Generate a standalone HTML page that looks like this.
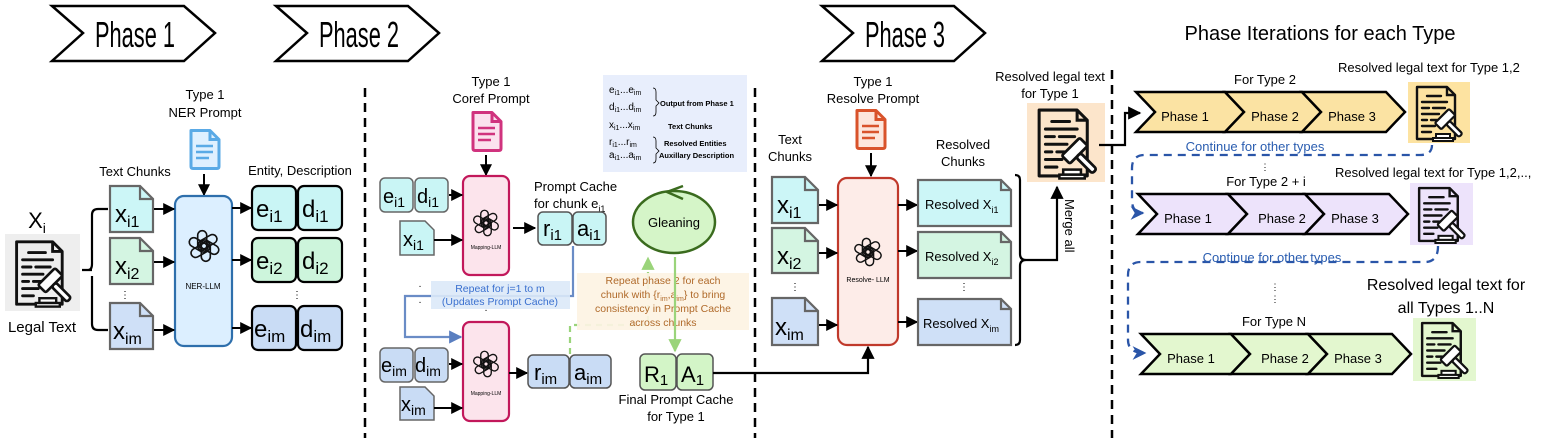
<!DOCTYPE html>
<html><head><meta charset="utf-8"><style>
html,body{margin:0;padding:0;background:#fff;}
svg{display:block;font-family:"Liberation Sans",Arial,sans-serif;}
</style></head><body>
<svg width="1557" height="440" viewBox="0 0 1557 440" xmlns="http://www.w3.org/2000/svg">
<defs>
<marker id="ah" viewBox="0 0 10 10" refX="9" refY="5" markerWidth="6" markerHeight="6" orient="auto"><path d="M0,0 L10,5 L0,10 z" fill="#000"/></marker>
<marker id="ahb" viewBox="0 0 10 10" refX="9" refY="5" markerWidth="6" markerHeight="6" orient="auto"><path d="M0,0 L10,5 L0,10 z" fill="#5a7fc0"/></marker>
<marker id="ahd" viewBox="0 0 10 10" refX="9" refY="5" markerWidth="6" markerHeight="6" orient="auto"><path d="M0,0 L10,5 L0,10 L3,5 z" fill="#2a55a8"/></marker>
<marker id="ahg" viewBox="0 0 10 10" refX="9" refY="5" markerWidth="6" markerHeight="6" orient="auto"><path d="M0,0 L10,5 L0,10 z" fill="#9ad47a"/></marker>
<symbol id="legal" viewBox="0 0 60 60">
<path d="M8,4 H38 L46,12 V56 H8 Z" fill="none" stroke="#111" stroke-width="2.4" stroke-linejoin="round"/>
<path d="M38,4 V12 H46" fill="none" stroke="#111" stroke-width="2.4"/>
<g stroke="#111" stroke-width="2.4" stroke-linecap="round">
<line x1="18" y1="13" x2="32" y2="13"/><line x1="13" y1="19" x2="38" y2="19"/>
<line x1="13" y1="25" x2="20" y2="25"/><line x1="24" y1="25" x2="36" y2="25"/>
<line x1="13" y1="31" x2="30" y2="31"/><line x1="13" y1="37" x2="18" y2="37"/><line x1="22" y1="37" x2="28" y2="37"/>
<line x1="13" y1="43" x2="26" y2="43"/><line x1="13" y1="49" x2="22" y2="49"/>
</g>
<g transform="rotate(-45 40 40)" fill="#fff" stroke="#111" stroke-width="2.2">
<rect x="30" y="30" width="20" height="9" rx="1.5"/><rect x="37" y="39" width="5" height="18" rx="2"/>
</g>
<rect x="27" y="51" width="14" height="4" fill="#fff" stroke="#111" stroke-width="2"/>
<rect x="24" y="55" width="20" height="3" fill="#fff" stroke="#111" stroke-width="2"/>
</symbol>
<symbol id="oai" viewBox="0 0 40 40">
<g fill="none" stroke="#111" stroke-width="1.8">
<rect x="13" y="3" width="10" height="22" rx="5" transform="rotate(0 20 20)"/>
<rect x="13" y="3" width="10" height="22" rx="5" transform="rotate(60 20 20)"/>
<rect x="13" y="3" width="10" height="22" rx="5" transform="rotate(120 20 20)"/>
<rect x="13" y="3" width="10" height="22" rx="5" transform="rotate(180 20 20)"/>
<rect x="13" y="3" width="10" height="22" rx="5" transform="rotate(240 20 20)"/>
<rect x="13" y="3" width="10" height="22" rx="5" transform="rotate(300 20 20)"/>
</g>
</symbol>
<symbol id="pdoc" viewBox="0 0 34 44">
<path d="M3,3 H22 L31,12 V39 Q31,41 29,41 H5 Q3,41 3,39 Z" stroke-width="3" stroke-linejoin="round"/>
<path d="M22,3 V12 H31" fill="none" stroke-width="3"/>
</symbol>
</defs>

<!-- Top banners -->
<g fill="#fff" stroke="#000" stroke-width="2.5">
<polygon points="52,6 184,6 215,33 184,61 52,61 83,33"/>
<polygon points="276,6 408,6 439,33 408,61 276,61 307,33"/>
<polygon points="822,6 954,6 985,33 954,61 822,61 853,33"/>
</g>
<g font-size="36" text-anchor="middle" fill="#000">
<text x="135" y="47" textLength="80" lengthAdjust="spacingAndGlyphs">Phase 1</text>
<text x="359" y="47" textLength="80" lengthAdjust="spacingAndGlyphs">Phase 2</text>
<text x="905" y="47" textLength="80" lengthAdjust="spacingAndGlyphs">Phase 3</text>
</g>
<text x="1320" y="40" font-size="20" text-anchor="middle">Phase Iterations for each Type</text>

<!-- dividers -->
<g stroke="#000" stroke-width="2.5" stroke-dasharray="9,6">
<line x1="365" y1="88" x2="365" y2="438"/>
<line x1="755" y1="88" x2="755" y2="438"/>
<line x1="1112" y1="70" x2="1112" y2="438"/>
</g>

<!-- ===== Phase 1 ===== -->
<text x="37" y="228" font-size="22" text-anchor="middle">X<tspan font-size="14" dy="5">i</tspan></text>
<rect x="5" y="234" width="75" height="77" fill="#eeeeee"/>
<use href="#legal" x="7" y="236" width="72" height="74"/>
<text x="42" y="332" font-size="15" text-anchor="middle">Legal Text</text>
<path d="M82,270 H88 Q92,270 92,264 V215 Q92,209 98,209 H108 M92,276 V324 Q92,330 98,330 H108 M88,270 H92" fill="none" stroke="#000" stroke-width="2.2"/>

<text x="135" y="176" font-size="13" text-anchor="middle">Text Chunks</text>
<g stroke="#666" stroke-width="2.2">
<path d="M110,186 H140 L153,199 V232 H110 Z" fill="#ccf6f7"/><path d="M140,186 V199 H153" fill="none"/>
<path d="M110,238 H140 L153,251 V284 H110 Z" fill="#d4f5e2"/><path d="M140,238 V251 H153" fill="none"/>
<path d="M110,303 H140 L153,316 V349 H110 Z" fill="#cfe0f7"/><path d="M140,303 V316 H153" fill="none"/>
</g>
<g font-size="24">
<text x="115" y="222">x<tspan font-size="16" dy="5">i1</tspan></text>
<text x="115" y="274">x<tspan font-size="16" dy="5">i2</tspan></text>
<text x="113" y="339">x<tspan font-size="16" dy="5">im</tspan></text>
</g>
<text x="125" y="298" font-size="10" text-anchor="middle">⋮</text>

<text x="205" y="99" font-size="13" text-anchor="middle">Type 1</text>
<text x="205" y="117" font-size="13" text-anchor="middle">NER Prompt</text>
<use href="#pdoc" x="188" y="127" width="34" height="45" fill="#dff0ff" stroke="#5aaae6"/>
<g stroke="#5aaae6" stroke-width="2.5"><line x1="196" y1="146" x2="213" y2="146"/><line x1="196" y1="152" x2="213" y2="152"/><line x1="196" y1="158" x2="209" y2="158"/></g>
<line x1="204" y1="174" x2="204" y2="195" stroke="#000" stroke-width="2" marker-end="url(#ah)"/>
<rect x="175" y="196" width="57" height="150" rx="9" fill="#dcefff" stroke="#2e6fac" stroke-width="2.2"/>
<use href="#oai" x="186" y="228" width="36" height="36"/>
<text x="203" y="289" font-size="8" text-anchor="middle">NER-LLM</text>
<g stroke="#000" stroke-width="2" marker-end="url(#ah)">
<line x1="154" y1="209" x2="174" y2="209"/><line x1="154" y1="262" x2="174" y2="262"/><line x1="154" y1="330" x2="174" y2="330"/>
<line x1="232" y1="208" x2="251" y2="208"/><line x1="232" y1="260" x2="251" y2="260"/><line x1="232" y1="328" x2="251" y2="328"/>
</g>
<text x="300" y="175" font-size="13" text-anchor="middle">Entity, Description</text>
<g stroke="#000" stroke-width="2.2">
<rect x="252" y="186" width="44" height="44" rx="6" fill="#c9f5f5"/><rect x="298" y="186" width="44" height="44" rx="6" fill="#c9f5f5"/>
<rect x="252" y="238" width="44" height="44" rx="6" fill="#cdf5dc"/><rect x="298" y="238" width="44" height="44" rx="6" fill="#cdf5dc"/>
<rect x="252" y="306" width="44" height="44" rx="6" fill="#c9dcf5"/><rect x="298" y="306" width="44" height="44" rx="6" fill="#c9dcf5"/>
</g>
<g font-size="24">
<text x="256" y="217">e<tspan font-size="17" dy="5">i1</tspan></text><text x="302" y="217">d<tspan font-size="17" dy="5">i1</tspan></text>
<text x="256" y="269">e<tspan font-size="17" dy="5">i2</tspan></text><text x="302" y="269">d<tspan font-size="17" dy="5">i2</tspan></text>
<text x="254" y="337">e<tspan font-size="17" dy="5">im</tspan></text><text x="300" y="337">d<tspan font-size="17" dy="5">im</tspan></text>
</g>
<text x="297" y="298" font-size="10" text-anchor="middle">⋮</text>

<!-- ===== Phase 2 ===== -->
<text x="491" y="86" font-size="13" text-anchor="middle">Type 1</text>
<text x="491" y="103" font-size="13" text-anchor="middle">Coref Prompt</text>
<use href="#pdoc" x="470" y="109" width="34" height="45" fill="#fbe1ee" stroke="#d0337e"/>
<g stroke="#d0337e" stroke-width="2.5"><line x1="478" y1="128" x2="495" y2="128"/><line x1="478" y1="134" x2="495" y2="134"/><line x1="478" y1="140" x2="491" y2="140"/></g>
<line x1="486" y1="155" x2="486" y2="175" stroke="#000" stroke-width="2" marker-end="url(#ah)"/>

<rect x="463" y="176" width="46" height="99" rx="7" fill="#fce4ec" stroke="#c2185b" stroke-width="2.2"/>
<use href="#oai" x="471" y="208" width="30" height="30"/>
<text x="486" y="249" font-size="5" text-anchor="middle">Mapping-LLM</text>
<rect x="463" y="322" width="46" height="99" rx="7" fill="#fce4ec" stroke="#c2185b" stroke-width="2.2"/>
<use href="#oai" x="471" y="349" width="30" height="30"/>
<text x="486" y="395" font-size="5" text-anchor="middle">Mapping-LLM</text>

<g stroke="#666" stroke-width="1.5">
<rect x="380" y="178" width="33" height="34" rx="5" fill="#c9f5f5"/><rect x="415" y="178" width="33" height="34" rx="5" fill="#c9f5f5"/>
<path d="M400,221 H425 L434,230 V255 H400 Z" fill="#c9f5f5"/>
<rect x="380" y="348" width="33" height="34" rx="5" fill="#c9dcf5"/><rect x="415" y="348" width="33" height="34" rx="5" fill="#c9dcf5"/>
<path d="M400,387 H425 L434,396 V420 H400 Z" fill="#c9dcf5"/>
</g>
<g font-size="20">
<text x="383" y="203">e<tspan font-size="14" dy="4">i1</tspan></text><text x="417" y="203">d<tspan font-size="14" dy="4">i1</tspan></text>
<text x="403" y="246">x<tspan font-size="14" dy="4">i1</tspan></text>
<text x="381" y="372">e<tspan font-size="14" dy="4">im</tspan></text><text x="415" y="372">d<tspan font-size="14" dy="4">im</tspan></text>
<text x="401" y="411">x<tspan font-size="14" dy="4">im</tspan></text>
</g>
<g stroke="#000" stroke-width="2" marker-end="url(#ah)">
<line x1="449" y1="195" x2="462" y2="195"/><line x1="434" y1="240" x2="462" y2="240"/>
<line x1="449" y1="364" x2="462" y2="364"/><line x1="434" y1="408" x2="462" y2="408"/>
<line x1="513" y1="228" x2="535" y2="228"/><line x1="509" y1="373" x2="527" y2="373"/>
</g>

<text x="534" y="191" font-size="13">Prompt Cache</text>
<text x="534" y="208" font-size="13">for chunk e<tspan font-size="9" dy="4">j1</tspan></text>
<g stroke="#555" stroke-width="1.5">
<rect x="538" y="212" width="34" height="33" rx="5" fill="#c9f5f5"/><rect x="573" y="212" width="33" height="33" rx="5" fill="#c9f5f5"/>
<rect x="528" y="355" width="41" height="33" rx="5" fill="#c9dcf5"/><rect x="570" y="355" width="41" height="33" rx="5" fill="#c9dcf5"/>
</g>
<g font-size="22">
<text x="543" y="236">r<tspan font-size="15" dy="4">i1</tspan></text><text x="577" y="236">a<tspan font-size="15" dy="4">i1</tspan></text>
<text x="534" y="380">r<tspan font-size="15" dy="4">im</tspan></text><text x="574" y="380">a<tspan font-size="15" dy="4">im</tspan></text>
</g>

<!-- legend -->
<rect x="603" y="75" width="144" height="97" fill="#e8eefc"/>
<g font-size="10">
<text x="609" y="93">e<tspan font-size="7" dy="2">i1</tspan><tspan dy="-2">...e</tspan><tspan font-size="7" dy="2">im</tspan></text>
<text x="609" y="110">d<tspan font-size="7" dy="2">i1</tspan><tspan dy="-2">...d</tspan><tspan font-size="7" dy="2">im</tspan></text>
<text x="609" y="128">x<tspan font-size="7" dy="2">i1</tspan><tspan dy="-2">...x</tspan><tspan font-size="7" dy="2">im</tspan></text>
<text x="609" y="145">r<tspan font-size="7" dy="2">i1</tspan><tspan dy="-2">...r</tspan><tspan font-size="7" dy="2">im</tspan></text>
<text x="609" y="158">a<tspan font-size="7" dy="2">i1</tspan><tspan dy="-2">...a</tspan><tspan font-size="7" dy="2">im</tspan></text>
</g>
<g font-size="7.5" font-weight="bold">
<text x="660" y="106">Output from Phase 1</text>
<text x="668" y="129">Text Chunks</text>
<text x="664" y="146">Resolved Entities</text>
<text x="659" y="158">Auxillary Description</text>
</g>
<path d="M653,88 Q656,88 656,92 V100 L659,103 L656,106 V112 Q656,116 653,116 M653,137 Q656,137 656,141 V148 L659,151 L656,154 V159 Q656,163 653,163" fill="none" stroke="#000" stroke-width="0.8"/>

<!-- gleaning -->
<ellipse cx="674" cy="222" rx="41" ry="31" fill="#d5f5c8" stroke="#3a6b1e" stroke-width="2.5"/>
<path d="M683,186 L667,192 L683,199" fill="none" stroke="#3a6b1e" stroke-width="2.5"/>
<text x="674" y="227" font-size="13" text-anchor="middle">Gleaning</text>

<!-- blue repeat -->
<polyline points="573,246 573,296 405,296 405,337 461,337" fill="none" stroke="#6a8cc6" stroke-width="2.2" marker-end="url(#ahb)"/>
<rect x="431" y="281" width="139" height="28" fill="#dbe9f8" opacity="0.9"/>
<text x="500" y="292" font-size="10.5" fill="#3a70cf" text-anchor="middle">Repeat for j=1 to m</text>
<text x="500" y="305" font-size="10.5" fill="#3a70cf" text-anchor="middle">(Updates Prompt Cache)</text>
<text x="420" y="287" font-size="10" text-anchor="middle">.</text>
<text x="420" y="303" font-size="10" text-anchor="middle">.</text>
<text x="486" y="311" font-size="10" text-anchor="middle">.</text>

<!-- green dashed -->
<polyline points="570,354 570,325 648,325 648,258" fill="none" stroke="#9ad47a" stroke-width="2.2" stroke-dasharray="6,5" marker-end="url(#ahg)"/>
<rect x="577" y="273" width="172" height="57" fill="#fdf3e3" opacity="0.92"/>
<g font-size="10.5" fill="#b06a2a" text-anchor="middle">
<text x="663" y="284">Repeat phase 2  for each</text>
<text x="663" y="298">chunk  with {r<tspan font-size="7" dy="3">im</tspan><tspan dy="-3">,a</tspan><tspan font-size="7" dy="3">im</tspan><tspan dy="-3">}   to bring</tspan></text>
<text x="663" y="312">consistency in Prompt Cache</text>
<text x="663" y="326">across chunks</text>
</g>
<line x1="675" y1="257" x2="675" y2="351" stroke="#9ad47a" stroke-width="2.2" marker-end="url(#ahg)"/>

<g stroke="#555" stroke-width="1.5">
<rect x="640" y="354" width="36" height="36" rx="5" fill="#d3f5c7"/><rect x="677" y="354" width="36" height="36" rx="5" fill="#d3f5c7"/>
</g>
<g font-size="22"><text x="644" y="382">R<tspan font-size="15" dy="3">1</tspan></text><text x="681" y="382">A<tspan font-size="15" dy="3">1</tspan></text></g>
<text x="676" y="404" font-size="13" text-anchor="middle">Final Prompt Cache</text>
<text x="676" y="421" font-size="13" text-anchor="middle">for Type 1</text>
<polyline points="713,373 868,373 868,347" fill="none" stroke="#000" stroke-width="2.2" marker-end="url(#ah)"/>

<!-- ===== Phase 3 ===== -->
<text x="873" y="86" font-size="13" text-anchor="middle">Type 1</text>
<text x="873" y="103" font-size="13" text-anchor="middle">Resolve Prompt</text>
<use href="#pdoc" x="854" y="107" width="34" height="45" fill="#fde6dc" stroke="#d9532b"/>
<g stroke="#d9532b" stroke-width="2.5"><line x1="862" y1="126" x2="879" y2="126"/><line x1="862" y1="132" x2="879" y2="132"/><line x1="862" y1="138" x2="875" y2="138"/></g>
<line x1="871" y1="153" x2="871" y2="176" stroke="#000" stroke-width="2" marker-end="url(#ah)"/>
<rect x="838" y="178" width="60" height="167" rx="9" fill="#fdece8" stroke="#c0392b" stroke-width="2.2"/>
<use href="#oai" x="852" y="236" width="32" height="32"/>
<text x="868" y="282" font-size="7" text-anchor="middle">Resolve- LLM</text>

<text x="790" y="144" font-size="13" text-anchor="middle">Text</text>
<text x="790" y="161" font-size="13" text-anchor="middle">Chunks</text>
<g stroke="#666" stroke-width="2.2">
<path d="M772,177 H805 L818,190 V223 H772 Z" fill="#ccf6f7"/><path d="M805,177 V190 H818" fill="none"/>
<path d="M772,228 H805 L818,241 V273 H772 Z" fill="#d4f5e2"/><path d="M805,228 V241 H818" fill="none"/>
<path d="M772,298 H805 L818,311 V345 H772 Z" fill="#cfe0f7"/><path d="M805,298 V311 H818" fill="none"/>
</g>
<g font-size="24">
<text x="777" y="213">x<tspan font-size="16" dy="5">i1</tspan></text>
<text x="777" y="264">x<tspan font-size="16" dy="5">i2</tspan></text>
<text x="775" y="335">x<tspan font-size="16" dy="5">im</tspan></text>
</g>
<text x="795" y="290" font-size="10" text-anchor="middle">⋮</text>
<g stroke="#000" stroke-width="2" marker-end="url(#ah)">
<line x1="819" y1="205" x2="837" y2="205"/><line x1="819" y1="253" x2="837" y2="253"/><line x1="819" y1="325" x2="837" y2="325"/>
<line x1="898" y1="205" x2="917" y2="205"/><line x1="898" y1="251" x2="917" y2="251"/><line x1="898" y1="322" x2="917" y2="322"/>
</g>
<text x="963" y="149" font-size="13" text-anchor="middle">Resolved</text>
<text x="963" y="166" font-size="13" text-anchor="middle">Chunks</text>
<g stroke="#666" stroke-width="2.2">
<path d="M918,180 H1001 L1011,190 V226 H918 Z" fill="#ccf6f7"/><path d="M1001,180 V190 H1011" fill="none"/>
<path d="M918,232 H1001 L1011,242 V278 H918 Z" fill="#d4f5e2"/><path d="M1001,232 V242 H1011" fill="none"/>
<path d="M918,299 H1001 L1011,309 V345 H918 Z" fill="#cfe0f7"/><path d="M1001,299 V309 H1011" fill="none"/>
</g>
<g font-size="13">
<text x="925" y="209">Resolved X<tspan font-size="9" dy="4">i1</tspan></text>
<text x="925" y="261">Resolved X<tspan font-size="9" dy="4">i2</tspan></text>
<text x="923" y="328">Resolved X<tspan font-size="9" dy="4">im</tspan></text>
</g>
<text x="964" y="290" font-size="10" text-anchor="middle">⋮</text>
<path d="M1015,175 Q1020,175 1020,180 V254 Q1020,260 1026,260 Q1020,260 1020,266 V340 Q1020,345 1015,345" fill="none" stroke="#000" stroke-width="2.2"/>
<polyline points="1026,260 1057,260 1057,187" fill="none" stroke="#000" stroke-width="2.2" marker-end="url(#ah)"/>
<text x="0" y="0" font-size="13" transform="translate(1065,199) rotate(90)">Merge all</text>

<text x="1050" y="81" font-size="13" text-anchor="middle">Resolved legal text</text>
<text x="1050" y="98" font-size="13" text-anchor="middle">for Type 1</text>
<rect x="1027" y="103" width="78" height="79" fill="#fce5cb"/>
<use href="#legal" x="1029" y="104" width="76" height="78"/>
<polyline points="1099,145 1125,145 1125,113 1140,113" fill="none" stroke="#000" stroke-width="2.2" marker-end="url(#ah)"/>

<!-- ===== Right iterations ===== -->
<g stroke="#000" stroke-width="2.5" stroke-linejoin="miter">
<polygon points="1136,92 1225,92 1244,112 1225,132 1136,132 1155,112" fill="#fbe3a3"/>
<polygon points="1225,92 1302,92 1321,112 1302,132 1225,132 1244,112" fill="#fbe3a3"/>
<polygon points="1302,92 1386,92 1405,112 1386,132 1302,132 1321,112" fill="#fbe3a3"/>
<polygon points="1138,194 1228,194 1247,214 1228,234 1138,234 1157,214" fill="#ede3fb"/>
<polygon points="1228,194 1305,194 1324,214 1305,234 1228,234 1247,214" fill="#ede3fb"/>
<polygon points="1305,194 1389,194 1408,214 1389,234 1305,234 1324,214" fill="#ede3fb"/>
<polygon points="1141,334 1231,334 1250,354 1231,374 1141,374 1160,354" fill="#e3f7cf"/>
<polygon points="1231,334 1308,334 1327,354 1308,374 1231,374 1250,354" fill="#e3f7cf"/>
<polygon points="1308,334 1392,334 1411,354 1392,374 1308,374 1327,354" fill="#e3f7cf"/>
</g>
<g font-size="13" text-anchor="middle">
<text x="1185" y="121">Phase 1</text><text x="1275" y="121">Phase 2</text><text x="1352" y="121">Phase 3</text>
<text x="1188" y="223">Phase 1</text><text x="1282" y="223">Phase 2</text><text x="1355" y="223">Phase 3</text>
<text x="1191" y="363">Phase 1</text><text x="1285" y="363">Phase 2</text><text x="1358" y="363">Phase 3</text>
<text x="1265" y="84">For Type 2</text>
<text x="1266" y="186">For Type 2 + i</text>
<text x="1274" y="326">For Type N</text>
</g>
<g font-size="13">
<text x="1338" y="72">Resolved legal text for Type 1,2</text>
<text x="1335" y="177">Resolved legal text for Type 1,2,..,</text>
</g>
<text x="1446" y="290" font-size="16" text-anchor="middle">Resolved legal text for</text>
<text x="1446" y="313" font-size="16" text-anchor="middle">all Types 1..N</text>

<rect x="1408" y="82" width="62" height="61" fill="#fde3a1"/>
<use href="#legal" x="1409" y="83" width="60" height="60"/>
<rect x="1410" y="183" width="63" height="62" fill="#ede3fb"/>
<use href="#legal" x="1411" y="184" width="61" height="61"/>
<rect x="1413" y="318" width="63" height="63" fill="#e3f7cf"/>
<use href="#legal" x="1414" y="319" width="61" height="61"/>

<g fill="none" stroke="#2a55a8" stroke-width="2.3" stroke-dasharray="8,6">
<path d="M1432,145 Q1432,155 1420,155 H1145 Q1132,155 1132,168 V200 Q1132,213 1143,213" marker-end="url(#ahd)"/>
<path d="M1438,246 Q1438,262 1425,262 H1141 Q1128,262 1128,275 V340 Q1128,353 1145,353" marker-end="url(#ahd)"/>
</g>
<g font-size="13" fill="#2a5db0" text-anchor="middle">
<text x="1255" y="151">Continue for other types</text>
<text x="1272" y="262">Continue for other types</text>
</g>
<text x="1265" y="170" font-size="9" text-anchor="middle">⋮</text>
<text x="1275" y="290" font-size="9" text-anchor="middle">⋮</text>
<text x="1275" y="302" font-size="9" text-anchor="middle">⋮</text>
</svg>
</body></html>
